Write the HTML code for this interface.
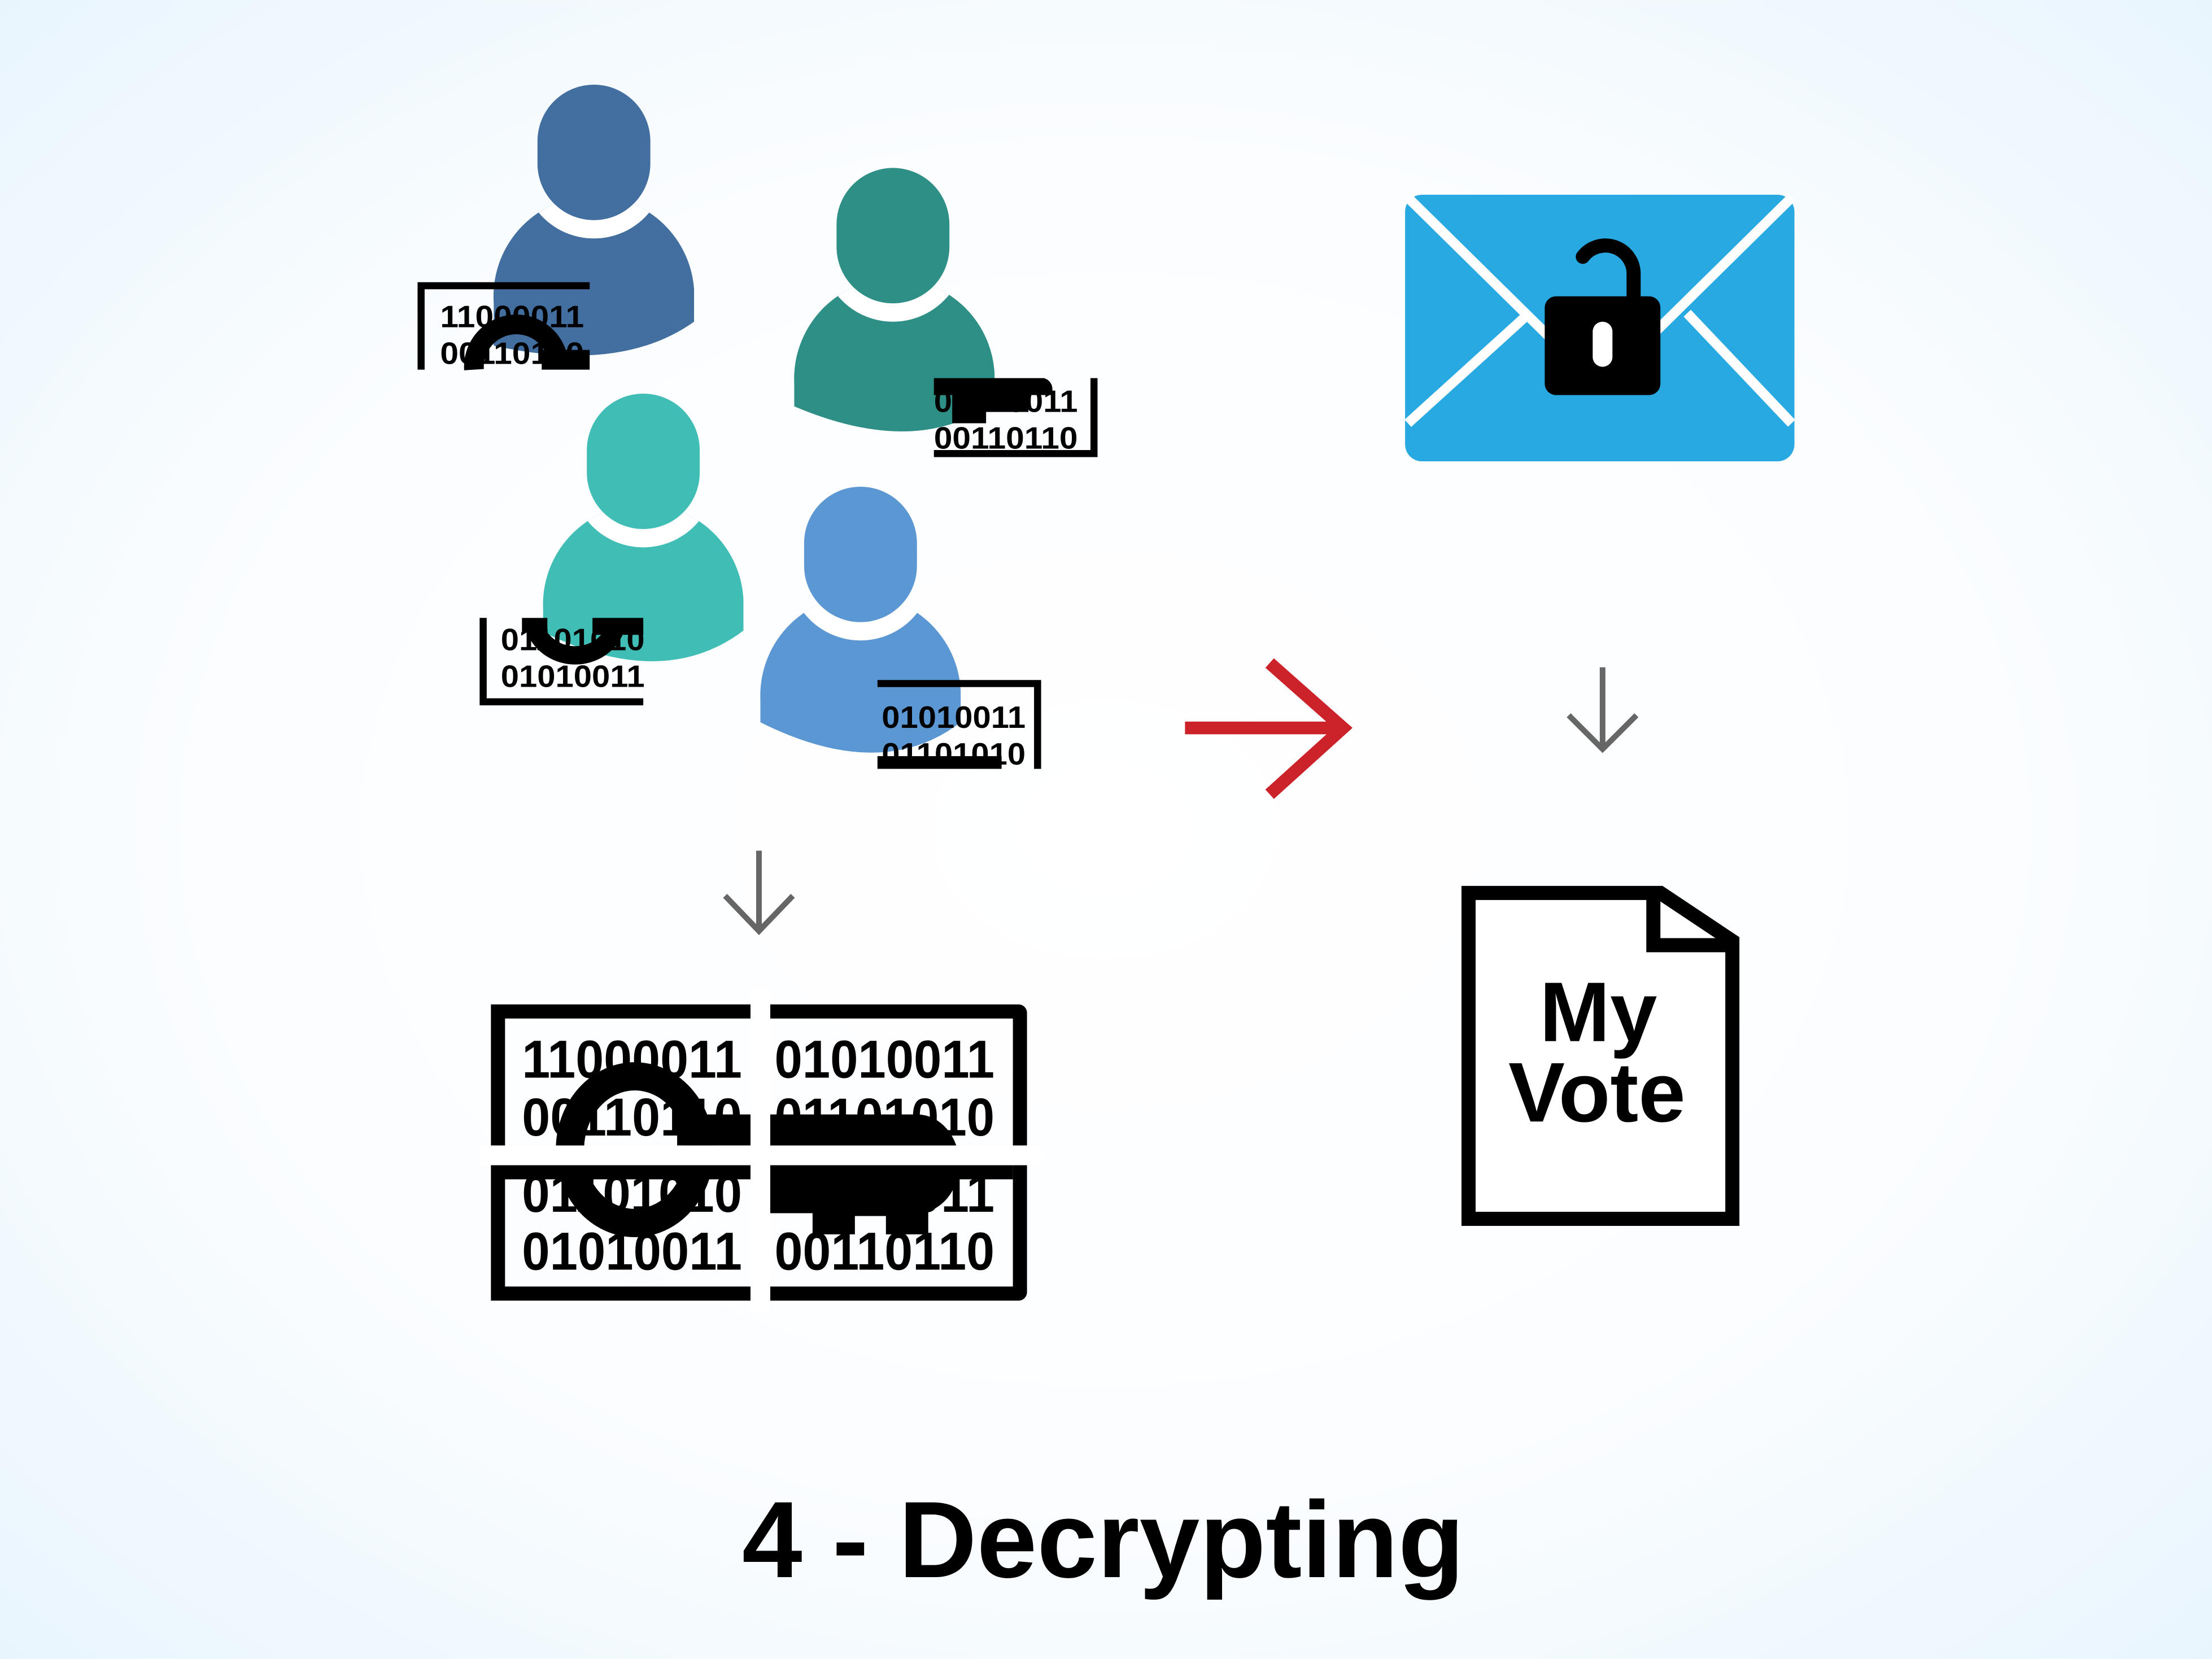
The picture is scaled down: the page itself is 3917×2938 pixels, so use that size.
<!DOCTYPE html>
<html><head><meta charset="utf-8"><style>
html,body{margin:0;padding:0;width:3917px;height:2938px;overflow:hidden}
svg{display:block}
text{font-family:"Liberation Sans Narrow","Liberation Sans",sans-serif}
</style></head><body>
<svg width="3917" height="2938" viewBox="0 0 1568 1176" xmlns="http://www.w3.org/2000/svg">
<defs>
<radialGradient id="bg" cx="50%" cy="50%" r="75%">
<stop offset="0" stop-color="#ffffff"/><stop offset="0.55" stop-color="#fbfdff"/><stop offset="1" stop-color="#e6f4fd"/>
</radialGradient>
<clipPath id="c1"><path d="M350,215 A71,71 0 0 1 492,205 L492,228 Q440,265 350,245 Z"/></clipPath>
<clipPath id="c2"><path d="M563,272 A71,71 0 0 1 705,265 L705,285 Q650,325 563,288 Z"/></clipPath>
<clipPath id="c3"><path d="M385,432 A71,71 0 0 1 527,425 L527,447 Q470,490 385,448 Z"/></clipPath>
<clipPath id="c4"><path d="M539,496 A71,71 0 0 1 681,490 L681,512 Q625,555 539,512 Z"/></clipPath>
</defs>
<rect width="1568" height="1176" fill="url(#bg)"/>

<!-- people -->
<g>
<path d="M350,215 A71,71 0 0 1 492,205 L492,228 Q440,265 350,245 Z" fill="#426fa0"/>
<rect x="370" y="50" width="102" height="119" rx="51" fill="#fff" clip-path="url(#c1)"/>
<rect x="381" y="60" width="80" height="96" rx="40" fill="#426fa0"/>
</g>
<g>
<path d="M563,272 A71,71 0 0 1 705,265 L705,285 Q650,325 563,288 Z" fill="#2e8f87"/>
<rect x="582" y="109" width="102" height="119" rx="51" fill="#fff" clip-path="url(#c2)"/>
<rect x="593" y="119" width="80" height="96" rx="40" fill="#2e8f87"/>
</g>
<g>
<path d="M385,432 A71,71 0 0 1 527,425 L527,447 Q470,490 385,448 Z" fill="#40bdb5"/>
<rect x="405" y="269" width="102" height="119" rx="51" fill="#fff" clip-path="url(#c3)"/>
<rect x="416" y="279" width="80" height="96" rx="40" fill="#40bdb5"/>
</g>
<g>
<path d="M539,496 A71,71 0 0 1 681,490 L681,512 Q625,555 539,512 Z" fill="#5b97d3"/>
<rect x="559" y="335" width="102" height="119" rx="51" fill="#fff" clip-path="url(#c4)"/>
<rect x="570" y="345" width="80" height="96" rx="40" fill="#5b97d3"/>
</g>

<!-- fragments -->
<g fill="#000" font-size="22" font-weight="bold">
<path d="M296,200 H418 V205 H301 V262 H296 Z"/>
<text x="312" y="232" textLength="102" lengthAdjust="spacingAndGlyphs">11000011</text>
<text x="312" y="258" textLength="102" lengthAdjust="spacingAndGlyphs">00110110</text>
<path d="M336,262 A30,30 0 0 1 396,258" stroke="#000" stroke-width="14" fill="none"/>
<rect x="384" y="248" width="34" height="14"/>
<path d="M662,324 H778 V268 H773 V319 H662 Z"/>
<text x="662" y="292" textLength="102" lengthAdjust="spacingAndGlyphs">01010011</text>
<text x="662" y="318" textLength="102" lengthAdjust="spacingAndGlyphs">00110110</text>
<path d="M662,268 H740 A8,8 0 0 1 746,276 V280 H662 Z"/>
<rect x="675" y="278" width="54" height="14"/><rect x="675" y="290" width="24" height="10"/>
<path d="M340,438 H345 V495 H456 V500 H340 Z"/>
<text x="355" y="461" textLength="102" lengthAdjust="spacingAndGlyphs">01101010</text>
<text x="355" y="487" textLength="102" lengthAdjust="spacingAndGlyphs">01010011</text>
<path d="M378,440 A30,28 0 0 0 436,446" stroke="#000" stroke-width="13" fill="none"/>
<rect x="370" y="438" width="18" height="10"/><rect x="420" y="438" width="36" height="12"/>
<path d="M622,482 H738 V545 H733 V487 H622 Z"/>
<text x="625" y="516" textLength="102" lengthAdjust="spacingAndGlyphs">01010011</text>
<text x="625" y="542" textLength="102" lengthAdjust="spacingAndGlyphs">01101010</text>
<rect x="622" y="536" width="88" height="9"/>
</g>

<!-- arrows -->
<g stroke="#666" stroke-width="4" fill="none">
<path d="M538,603 V660 M514,635 L538,660 L562,635"/>
<path d="M1136,473 V530 M1112,507 L1136,531 L1160,507"/>
</g>
<g stroke="#cc2229" stroke-width="9" fill="none">
<path d="M840,516 H952 M900,470 L952,516 L900,563"/>
</g>

<!-- big key block -->
<g fill="#000">
<path d="M348,712 H532 V722 H358 V812 H348 Z"/>
<path d="M546,712 H722 A6,6 0 0 1 728,718 V812 H718 V722 H546 Z"/>
<path d="M348,826 H532 V836 H358 V912 H532 V922 H348 Z"/>
<path d="M546,912 H718 V826 H728 V916 A6,6 0 0 1 722,922 H546 Z"/>
<path d="M546,826 H718 V836 H546 Z"/>
<g font-size="38" font-weight="bold">
<text x="370" y="764" textLength="156" lengthAdjust="spacingAndGlyphs">11000011</text>
<text x="549" y="764" textLength="156" lengthAdjust="spacingAndGlyphs">01010011</text>
<text x="370" y="805" textLength="156" lengthAdjust="spacingAndGlyphs">00110110</text>
<text x="549" y="805" textLength="156" lengthAdjust="spacingAndGlyphs">01101010</text>
<text x="370" y="859" textLength="156" lengthAdjust="spacingAndGlyphs">01101010</text>
<text x="549" y="859" textLength="156" lengthAdjust="spacingAndGlyphs">00110011</text>
<text x="370" y="900" textLength="156" lengthAdjust="spacingAndGlyphs">01010011</text>
<text x="549" y="900" textLength="156" lengthAdjust="spacingAndGlyphs">00110110</text>
</g>
<ellipse cx="450" cy="815" rx="46" ry="52" fill="none" stroke="#000" stroke-width="20"/>
<rect x="480" y="790" width="60" height="22"/>
<path d="M540,790 H650 A30,35 0 0 1 680,825 A30,35 0 0 1 650,860 H540 Z"/>
<path d="M576,858 H658 V875 H628 V862 H606 V875 H576 Z"/>
<rect x="340" y="812" width="400" height="14" fill="#fff"/>
<rect x="532" y="700" width="14" height="230" fill="#fff"/>
</g>

<!-- envelope -->
<rect x="996" y="138" width="276" height="189" rx="12" fill="#29a9e1"/>
<g stroke="#fff" stroke-width="7" fill="none">
<path d="M998,140 L1134,274 L1270,140"/>
<path d="M998,300 L1084,222 M1270,300 L1196,222"/>
</g>
<rect x="1095" y="210" width="82" height="70" rx="8" fill="#000"/>
<path d="M1122,182 A20,20 0 0 1 1158,194 V212" stroke="#000" stroke-width="10" fill="none" stroke-linecap="round"/>
<rect x="1129" y="228" width="14" height="32" rx="7" fill="#fff"/>

<!-- document -->
<path d="M1041,633 H1177 L1228,667 V864 H1041 Z" fill="#fff" stroke="#000" stroke-width="10"/>
<path d="M1172,633 V670 H1228" fill="none" stroke="#000" stroke-width="10"/>
<g font-weight="bold" font-size="60" text-anchor="middle" fill="#000">
<text x="1133" y="738" style="font-family:'Liberation Sans',sans-serif">My</text>
<text x="1132" y="795" style="font-family:'Liberation Sans',sans-serif">Vote</text>
</g>

<text x="782" y="1118" text-anchor="middle" font-size="77" font-weight="bold" style="font-family:'Liberation Sans',sans-serif" fill="#000" textLength="512" lengthAdjust="spacingAndGlyphs">4 - Decrypting</text>
</svg>
</body></html>
